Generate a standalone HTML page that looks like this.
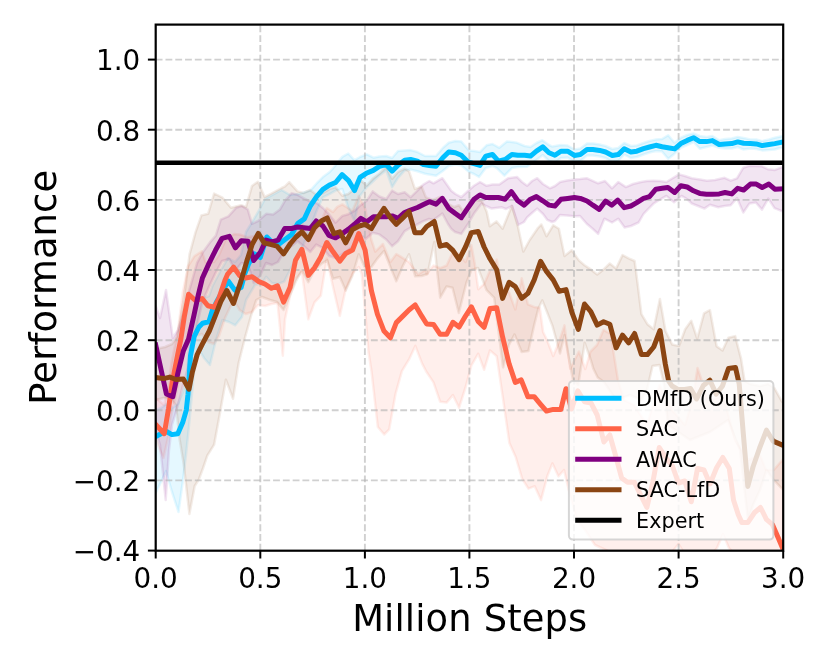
<!DOCTYPE html>
<html lang="en"><head><meta charset="utf-8"><title>Performance vs Million Steps</title>
<style>
html,body{margin:0;padding:0;background:#fff;}
body{width:830px;height:664px;overflow:hidden;}
svg{display:block;font-family:"DejaVu Sans","Liberation Sans",sans-serif;fill:#000;}
.tk{font-size:27.8px;}
.lb{font-size:36.8px;letter-spacing:0.17px;}
.lg{font-size:20.75px;}
</style></head><body>
<svg width="830" height="664" viewBox="0 0 830 664">
<rect width="830" height="664" fill="#fff"/>
<defs><clipPath id="ax"><rect x="155.7" y="24.6" width="627.5" height="526.1"/></clipPath></defs>
<g clip-path="url(#ax)">
<polygon points="155.7,410.0 161.0,408.0 166.5,404.0 172.0,408.0 178.0,404.0 183.0,392.0 186.5,378.0 190.5,330.0 194.0,312.0 199.0,304.0 204.0,298.0 209.0,296.0 212.5,286.0 221.0,270.0 228.0,258.0 235.0,262.0 241.0,255.0 246.0,232.0 251.0,224.0 258.0,212.0 265.0,199.0 271.5,195.5 281.6,190.0 290.0,195.0 299.0,194.0 310.3,190.6 317.0,183.0 322.9,177.1 329.7,172.0 335.6,165.3 342.3,156.9 348.2,153.5 354.5,160.2 360.0,157.0 366.8,154.3 373.5,157.7 379.4,156.5 386.2,156.0 392.1,158.0 398.0,151.0 404.7,150.5 410.6,150.1 417.4,152.0 425.0,156.0 436.0,156.0 442.8,148.0 448.7,142.8 455.4,141.0 461.3,141.5 468.9,150.4 474.0,151.0 480.0,152.0 486.6,145.3 492.5,144.0 499.3,147.8 506.9,141.5 512.0,142.0 517.0,142.8 524.6,146.0 530.5,147.0 536.4,143.0 542.3,140.2 549.0,145.0 552.4,146.6 560.9,145.0 567.6,145.5 574.4,149.5 580.3,148.5 587.0,143.5 592.9,143.5 599.7,144.5 605.6,146.0 612.3,149.0 618.2,148.0 624.2,143.0 630.9,146.0 636.8,145.5 643.5,143.0 649.5,141.0 655.9,139.5 662.1,139.0 668.2,135.2 674.5,142.8 680.9,137.7 687.2,135.0 693.5,133.5 699.8,136.0 706.5,136.9 712.4,136.0 719.2,140.2 725.1,139.0 731.8,138.5 737.7,136.9 743.6,138.0 750.4,139.4 756.3,139.5 762.2,141.1 768.9,139.5 774.8,137.7 783.2,136.0 783.2,147.0 774.8,149.5 768.9,150.0 762.2,150.4 756.3,149.0 750.4,148.5 743.6,149.5 737.7,147.0 731.8,148.5 725.1,148.5 719.2,147.8 712.4,145.5 706.5,147.0 699.8,148.7 693.5,142.0 687.2,145.0 680.9,147.8 674.5,153.7 668.2,158.8 661.8,151.2 655.9,151.0 649.5,152.5 643.5,154.5 636.8,157.0 630.9,158.0 624.2,154.5 618.2,161.0 612.3,162.0 605.6,158.0 599.7,156.5 592.9,155.5 587.0,155.5 580.3,161.0 574.4,162.0 567.6,157.5 560.9,158.0 554.9,163.0 549.0,161.0 542.8,155.0 536.4,160.0 527.1,166.8 517.8,167.0 512.0,168.1 504.4,175.7 496.8,168.1 492.5,166.0 485.8,168.0 479.0,176.9 474.0,174.0 468.9,171.9 461.3,165.5 455.4,164.5 448.7,166.0 442.8,171.0 436.0,175.7 425.0,173.7 417.4,171.2 410.6,169.5 404.7,170.4 398.0,177.9 392.1,187.2 386.2,170.4 379.4,175.4 373.5,181.0 366.8,187.2 360.0,195.7 354.5,221.0 348.2,207.5 342.3,188.9 335.6,190.6 329.7,194.0 322.9,197.3 317.0,210.0 310.0,228.0 303.0,246.0 297.0,256.0 291.0,268.0 284.2,281.6 278.0,284.0 272.0,283.0 266.1,276.8 262.5,282.8 255.0,285.0 246.1,300.0 241.9,316.9 235.2,325.3 229.0,322.0 222.5,320.0 216.0,340.0 209.9,365.0 204.0,358.0 198.0,348.0 194.0,372.0 189.6,420.0 186.3,452.0 183.0,480.0 178.5,512.0 172.0,492.0 166.0,471.0 161.0,482.0 155.7,493.0" fill="#00bfff" fill-opacity="0.10" stroke="#00bfff" stroke-opacity="0.10" stroke-width="2.5" stroke-linejoin="round"/>
<polygon points="155.7,398.0 164.3,405.0 168.6,382.0 172.0,360.0 178.0,330.0 182.9,291.7 188.0,266.4 194.3,256.3 201.9,251.2 205.7,262.6 214.0,262.0 219.0,255.0 225.9,239.0 234.3,234.0 241.1,234.8 247.8,237.3 254.0,236.0 260.0,240.0 266.0,244.0 272.0,246.0 278.0,243.0 284.0,252.0 290.0,240.0 295.5,225.0 301.8,222.0 308.0,238.0 314.5,232.0 320.8,222.0 326.8,208.0 333.0,212.0 337.2,206.9 342.3,204.4 352.4,210.7 358.7,196.0 365.0,208.0 368.5,225.0 371.4,240.0 375.3,251.6 382.9,244.0 390.4,262.0 396.3,254.0 400.6,256.6 409.0,262.0 418.3,274.4 425.9,269.3 426.7,274.0 433.5,265.5 440.2,268.1 446.6,265.5 452.9,252.0 459.1,253.7 465.5,262.0 471.4,245.3 474.8,263.9 478.2,289.2 484.1,284.1 490.0,270.6 496.7,259.6 502.6,287.5 509.1,292.5 515.3,309.4 521.7,278.2 527.9,304.3 534.2,306.9 539.8,307.7 543.1,332.0 547.0,340.0 553.2,356.0 558.7,342.8 564.5,325.4 570.2,368.8 578.9,351.5 585.3,369.0 590.5,351.5 597.0,345.0 603.5,329.8 610.7,334.1 618.0,380.4 624.0,400.0 634.0,405.0 647.0,425.0 653.0,405.0 659.6,385.0 672.0,410.0 685.0,425.0 693.0,398.0 697.5,368.0 703.5,386.0 708.0,402.0 723.0,395.0 735.0,440.0 748.0,460.0 760.0,455.0 766.0,470.0 773.7,470.0 783.2,459.0 783.2,575.0 740.0,560.0 729.0,548.0 723.0,534.0 717.0,548.0 710.0,556.0 686.0,556.0 678.5,544.0 672.0,552.0 660.0,556.0 630.0,556.0 610.0,552.0 595.0,545.0 585.0,530.0 577.0,520.0 570.0,495.0 564.0,470.0 558.4,476.3 552.4,463.4 547.4,476.0 541.0,500.1 534.7,486.2 528.4,488.7 522.1,478.6 515.7,457.0 509.4,443.1 502.6,395.9 496.7,356.3 490.0,350.4 484.1,369.8 478.2,353.7 471.4,365.5 465.5,387.5 459.1,407.7 452.9,395.1 446.6,402.6 440.2,401.8 433.5,382.4 426.7,372.3 422.1,363.6 415.3,345.9 409.5,358.6 401.9,371.2 395.5,394.0 389.2,429.4 384.2,434.5 377.8,426.9 371.5,371.2 368.5,352.0 365.1,310.8 361.7,273.7 358.7,267.0 352.5,273.7 345.7,288.9 339.8,315.9 333.1,287.2 326.8,258.6 320.8,295.7 314.5,302.4 308.3,319.3 301.9,272.0 295.5,278.8 290.1,295.7 285.0,319.3 282.8,355.7 277.5,303.0 271.5,304.0 265.0,306.0 258.0,305.0 252.0,312.0 245.6,314.0 239.6,310.0 233.6,300.0 225.0,318.0 219.0,336.0 214.0,344.0 208.0,342.0 202.0,334.0 195.4,336.0 188.6,330.0 184.3,352.0 178.0,385.0 172.0,412.0 168.6,435.0 163.5,458.0 155.7,440.0" fill="#ff6347" fill-opacity="0.10" stroke="#ff6347" stroke-opacity="0.10" stroke-width="2.5" stroke-linejoin="round"/>
<polygon points="155.7,306.0 160.0,318.0 166.0,290.0 172.8,338.0 178.0,330.0 183.0,315.0 188.8,292.0 197.2,262.6 203.0,252.0 209.9,242.4 215.8,235.7 220.8,219.6 228.4,216.3 236.0,207.8 241.9,206.1 247.8,209.5 252.0,223.8 258.0,221.0 266.4,213.7 273.1,214.6 279.9,209.5 285.0,200.7 291.7,193.1 297.6,194.8 303.6,198.2 310.3,201.6 317.0,203.2 323.0,208.0 328.9,214.2 335.6,222.6 342.3,215.9 348.2,214.2 354.5,210.8 360.9,204.9 366.8,200.7 372.7,191.4 379.4,196.5 386.2,199.0 392.1,190.6 398.0,194.0 404.7,192.3 410.6,197.3 417.4,190.6 423.4,184.5 429.3,181.0 433.5,183.3 442.4,178.2 451.2,190.8 455.4,194.0 461.3,197.2 468.0,191.0 474.0,185.8 480.0,182.0 486.6,185.8 492.5,184.5 499.3,184.5 508.1,178.2 517.0,176.9 522.0,182.0 527.1,185.8 532.0,181.0 537.2,178.2 543.0,184.0 549.9,188.3 555.0,186.0 560.1,182.0 567.0,180.5 574.0,179.5 580.0,179.0 586.7,178.2 598.1,183.3 605.0,181.0 612.0,188.3 618.3,182.0 625.9,187.1 633.0,184.0 641.1,182.0 647.0,181.0 653.7,180.7 660.0,181.0 666.4,182.0 673.0,178.0 679.0,174.4 685.0,176.0 691.7,178.2 700.0,179.5 706.9,180.7 715.0,180.0 724.5,177.8 730.7,180.7 737.0,178.3 743.3,167.7 749.5,165.8 756.0,166.0 762.0,166.3 767.8,169.2 774.6,170.1 783.2,166.7 783.2,211.6 774.6,208.2 768.3,198.6 762.0,209.6 755.8,202.4 749.5,203.4 743.3,212.5 737.0,198.1 730.7,205.3 724.5,206.0 718.2,207.2 710.0,204.8 704.4,208.6 698.0,206.0 691.7,203.5 687.0,199.0 681.6,195.9 674.0,202.2 666.4,195.9 660.0,199.5 653.7,203.5 647.4,209.8 643.5,214.0 638.6,222.5 631.0,226.0 624.6,227.5 618.3,218.7 612.0,222.5 604.4,218.7 598.1,233.9 592.9,229.0 586.7,223.7 580.0,216.0 574.0,216.2 567.0,215.5 560.1,214.9 555.0,221.0 552.0,222.0 547.4,219.9 543.0,214.0 537.2,208.6 532.0,213.0 527.1,217.4 524.0,222.0 518.3,225.0 512.0,206.0 506.0,209.0 501.8,207.3 491.7,208.6 486.0,206.0 481.6,203.5 474.0,213.6 468.0,224.0 461.3,233.9 455.0,232.0 451.2,228.8 448.0,224.0 442.4,213.6 433.5,219.9 429.0,219.0 423.4,221.2 417.4,224.3 410.6,227.7 404.7,231.1 398.0,241.2 392.1,246.3 386.2,239.5 379.4,234.4 372.7,232.8 365.1,239.5 362.7,236.4 354.5,245.0 348.2,250.0 342.3,254.0 335.6,258.0 329.0,256.0 323.0,248.0 316.2,244.6 310.3,252.0 303.6,246.0 297.6,241.2 291.7,246.0 285.0,250.0 278.0,262.0 272.0,265.0 266.0,263.0 260.0,276.0 253.7,283.0 248.0,264.0 241.4,263.0 235.4,271.0 229.3,259.0 222.0,261.0 215.5,273.0 208.9,287.0 202.4,302.0 197.8,322.0 194.0,340.0 188.0,368.0 183.0,385.0 178.0,405.0 172.0,425.0 169.0,450.0 165.7,500.0 160.0,445.0 155.7,430.0" fill="#800080" fill-opacity="0.10" stroke="#800080" stroke-opacity="0.10" stroke-width="2.5" stroke-linejoin="round"/>
<polygon points="155.7,349.0 165.0,347.0 172.0,344.0 177.0,337.0 183.7,300.0 189.6,254.2 195.5,232.3 201.4,215.4 208.2,213.7 214.1,193.5 222.5,197.7 231.0,207.8 241.0,205.3 246.0,207.0 252.0,185.9 257.9,181.7 264.7,196.9 271.4,193.5 276.0,191.0 281.6,188.0 285.0,186.4 289.2,182.2 297.6,191.4 303.6,193.0 310.0,190.0 317.0,195.0 323.0,193.0 329.7,188.9 335.6,187.2 342.3,195.7 348.2,194.0 354.5,188.9 360.9,180.5 366.8,185.5 372.7,178.8 379.4,173.7 386.2,167.0 392.1,178.8 398.0,172.0 404.7,168.7 409.0,171.2 414.9,188.9 421.6,186.5 425.9,197.3 433.0,200.0 440.0,197.0 446.6,203.0 454.2,207.0 459.0,205.2 462.7,210.6 468.0,206.0 474.0,200.0 481.9,201.0 486.7,211.8 489.8,226.3 496.4,221.4 502.6,228.7 508.5,214.3 511.9,205.9 517.8,226.1 523.3,251.6 529.7,240.0 538.1,227.8 541.4,224.5 546.5,236.3 553.2,225.3 558.9,228.8 564.5,256.0 571.7,250.2 578.9,260.4 584.5,265.2 590.8,269.4 597.2,274.5 603.6,269.4 609.8,263.5 616.1,268.6 622.5,255.1 628.7,258.4 634.6,261.0 637.6,283.7 641.4,314.1 647.4,324.2 653.7,329.3 659.9,298.9 665.5,331.0 672.2,344.5 679.0,346.1 685.2,329.3 691.3,320.8 697.2,338.7 704.0,313.4 709.9,310.0 716.6,346.3 722.5,350.5 728.4,337.8 735.2,336.1 741.1,358.9 744.5,380.8 750.0,384.0 760.0,386.0 768.0,384.0 774.3,388.0 781.6,401.0 783.2,403.0 783.2,490.0 773.7,480.0 766.5,470.0 760.0,490.0 753.0,505.0 748.0,520.0 740.0,450.0 728.0,420.0 710.0,432.0 690.0,440.0 668.0,425.0 664.0,384.0 659.5,365.0 652.5,366.0 647.0,390.0 641.0,400.0 630.0,395.0 616.0,400.0 604.0,382.0 597.7,377.5 593.4,368.8 590.8,360.0 584.7,342.8 578.3,385.0 573.1,380.4 564.5,335.0 560.0,353.5 552.4,325.7 547.0,312.0 542.3,300.4 538.5,308.0 534.2,325.0 528.4,351.0 521.7,352.0 514.5,334.5 509.0,345.0 503.1,367.4 494.2,297.8 486.6,290.2 478.0,268.0 471.4,270.0 466.4,282.7 458.8,313.0 452.5,287.7 446.6,286.4 440.2,297.6 436.9,269.0 434.3,242.0 427.6,274.0 421.6,276.0 415.2,276.3 409.0,254.3 403.1,265.3 396.3,281.3 390.4,267.0 384.0,251.0 377.4,258.6 371.4,267.0 365.1,268.0 358.7,254.3 352.5,275.4 345.7,290.6 339.8,277.0 333.1,278.8 327.2,260.2 321.3,264.0 314.5,270.0 308.3,282.2 301.9,270.4 295.5,282.2 290.5,294.0 283.6,310.0 277.0,302.0 270.0,300.0 262.0,297.0 256.3,300.0 251.2,315.2 244.9,338.0 238.6,363.3 233.0,398.7 225.9,379.7 219.6,415.0 214.1,444.7 207.3,455.7 203.1,468.0 198.9,479.3 194.7,486.0 189.4,514.0 183.7,464.1 179.5,438.8 176.0,405.0 170.0,398.0 163.5,398.0 155.7,400.0" fill="#8b4513" fill-opacity="0.10" stroke="#8b4513" stroke-opacity="0.10" stroke-width="2.5" stroke-linejoin="round"/>
<g stroke="#b0b0b0" stroke-opacity="0.6" stroke-width="1.9" stroke-dasharray="6.83,2.952" fill="none"><line x1="260.3" y1="550.7" x2="260.3" y2="24.6"/><line x1="364.9" y1="550.7" x2="364.9" y2="24.6"/><line x1="469.4" y1="550.7" x2="469.4" y2="24.6"/><line x1="574.0" y1="550.7" x2="574.0" y2="24.6"/><line x1="678.6" y1="550.7" x2="678.6" y2="24.6"/><line x1="155.7" y1="480.4" x2="783.2" y2="480.4"/><line x1="155.7" y1="410.3" x2="783.2" y2="410.3"/><line x1="155.7" y1="340.2" x2="783.2" y2="340.2"/><line x1="155.7" y1="270.0" x2="783.2" y2="270.0"/><line x1="155.7" y1="199.9" x2="783.2" y2="199.9"/><line x1="155.7" y1="129.7" x2="783.2" y2="129.7"/><line x1="155.7" y1="59.6" x2="783.2" y2="59.6"/></g>
<polyline points="155.7,436.5 161.0,433.7 166.5,431.5 171.9,434.6 177.8,433.7 182.9,421.9 186.3,410.1 188.0,394.5 190.5,355.7 194.2,336.5 198.9,327.0 202.6,323.2 208.9,321.7 212.2,310.7 216.0,303.0 221.5,293.0 228.2,281.0 234.8,290.1 241.1,287.5 245.0,273.2 248.5,264.0 254.6,254.0 260.3,257.5 266.8,237.0 272.5,242.5 278.5,244.5 285.0,239.5 291.7,234.5 297.6,223.6 304.3,218.9 310.3,206.0 316.6,196.6 322.9,189.3 329.4,185.1 335.6,182.5 342.1,174.7 348.6,180.6 354.5,190.5 360.0,177.4 366.3,173.3 373.3,170.4 379.4,166.4 386.2,164.5 392.1,171.2 398.0,165.3 404.7,160.2 410.6,159.4 417.4,161.1 423.5,164.6 429.3,165.4 436.0,166.3 442.8,157.8 448.7,151.9 455.4,152.8 461.3,155.3 468.1,162.0 474.0,163.7 479.9,165.4 485.8,156.1 492.5,154.5 498.4,161.2 505.2,159.5 511.9,154.5 517.8,155.3 524.6,155.3 530.5,156.1 536.4,151.1 542.8,146.9 549.0,152.8 554.9,155.3 560.9,151.2 567.6,151.2 574.4,155.4 580.3,154.6 587.0,149.5 592.9,149.5 599.7,150.4 605.6,152.0 612.3,155.4 618.2,154.6 624.2,148.7 630.9,152.0 636.8,151.2 643.5,148.7 649.5,147.0 655.9,145.3 662.1,146.8 668.0,147.8 674.7,148.9 680.8,143.6 687.2,140.4 693.5,137.7 699.8,141.6 706.5,141.6 712.4,140.6 719.2,144.5 725.1,143.9 731.8,143.6 737.7,141.9 743.6,143.3 750.4,143.6 756.3,143.9 762.2,145.6 768.9,144.5 774.8,143.6 783.2,141.9" fill="none" stroke="#00bfff" stroke-width="5" stroke-linejoin="round" stroke-linecap="square"/>
<polyline points="155.7,424.5 164.3,433.7 168.6,408.4 171.9,384.3 177.8,354.0 180.9,339.0 184.3,316.4 188.6,294.3 195.4,300.5 202.1,298.6 207.9,305.8 214.2,307.3 219.0,298.1 224.8,280.8 227.5,274.4 233.6,267.2 239.6,275.6 245.6,278.0 252.2,276.8 258.9,281.6 264.9,284.0 271.5,288.3 277.5,285.8 283.6,302.1 290.1,287.2 295.5,260.2 301.9,249.3 308.3,275.4 314.5,267.8 320.8,256.9 326.8,242.5 333.1,251.8 339.8,261.1 345.7,253.5 352.5,250.1 358.7,233.5 365.1,250.1 368.5,272.0 371.4,290.6 377.4,314.2 384.0,331.1 390.4,337.8 396.3,322.6 403.1,315.9 409.0,310.0 415.2,304.9 421.6,315.9 426.7,324.0 433.5,324.4 440.2,334.3 446.6,334.3 452.9,322.3 459.1,327.0 465.5,316.1 471.4,306.9 478.2,321.4 484.1,327.3 490.0,308.5 496.7,307.7 502.6,336.9 509.1,363.9 515.3,382.4 521.2,379.9 527.9,396.7 534.2,396.7 540.6,404.3 546.5,411.1 553.2,409.4 560.9,409.4 566.0,388.7 571.5,409.0 577.8,390.8 584.5,401.8 591.0,403.0 597.2,415.0 603.9,442.0 609.8,435.0 615.7,456.0 621.6,477.9 627.5,482.2 634.3,482.2 641.0,495.7 646.9,507.5 652.8,482.2 659.3,447.5 666.0,458.1 672.4,466.0 678.5,483.0 684.8,481.0 691.3,501.8 697.5,468.5 704.0,470.0 710.0,484.0 716.6,467.7 722.8,457.5 729.3,468.5 733.5,500.0 738.3,514.7 741.9,522.6 747.8,522.6 754.6,512.5 760.5,507.5 766.4,519.3 772.3,524.3 778.2,537.8 783.2,549.6" fill="none" stroke="#ff6347" stroke-width="5" stroke-linejoin="round" stroke-linecap="square"/>
<polyline points="155.7,345.0 166.4,394.0 172.8,396.7 177.9,373.0 183.3,351.0 188.6,339.0 193.9,315.5 197.8,297.2 202.4,278.0 208.9,263.6 215.5,250.3 222.1,238.3 229.3,236.4 235.4,247.9 241.4,240.7 248.0,241.3 253.7,260.5 260.1,252.7 266.1,240.1 272.1,241.9 278.1,240.1 284.8,228.6 291.7,228.5 297.6,226.9 303.6,227.7 310.3,228.5 316.2,221.0 322.9,226.0 328.9,235.3 335.6,237.8 342.3,233.6 348.2,229.4 354.5,224.3 360.9,218.4 366.8,221.8 373.5,216.7 379.4,216.7 386.2,216.7 392.1,215.9 398.0,218.4 404.7,212.5 410.6,210.0 417.4,207.5 423.5,204.5 429.3,201.7 436.0,204.2 442.3,198.3 448.7,208.4 455.4,213.5 461.3,217.7 468.1,207.6 474.0,199.2 479.9,194.9 485.8,197.5 492.5,197.5 498.4,197.5 505.2,199.2 511.4,191.6 517.8,200.8 524.1,205.1 530.5,199.2 536.4,196.6 542.8,200.8 549.0,205.1 554.9,206.0 560.9,199.3 567.6,198.4 574.4,197.6 580.3,198.4 587.0,201.0 592.9,205.2 599.2,209.4 605.6,201.0 611.8,205.2 617.7,200.1 624.2,207.7 630.9,206.0 636.8,202.6 643.5,198.4 649.5,196.7 655.9,189.2 662.1,188.3 668.0,187.5 674.6,192.5 680.8,185.8 687.2,187.0 693.5,190.8 699.8,193.4 706.5,194.2 712.4,194.2 719.2,193.9 725.1,192.5 731.8,193.9 737.7,188.3 743.6,190.0 750.4,184.1 756.3,184.1 762.2,187.5 768.9,184.1 774.8,189.2 783.2,188.8" fill="none" stroke="#800080" stroke-width="5" stroke-linejoin="round" stroke-linecap="square"/>
<polyline points="155.7,377.6 163.5,378.6 169.8,377.1 176.0,379.5 183.3,379.0 189.0,389.2 192.4,371.8 197.2,354.5 202.3,344.2 209.3,331.0 215.0,316.6 220.8,301.5 226.8,290.5 233.5,303.5 240.8,281.6 246.8,261.1 252.2,244.3 258.3,233.4 264.3,243.1 270.3,244.3 276.9,246.1 283.6,253.9 290.5,243.5 296.0,237.0 301.9,231.9 308.3,239.5 314.5,227.7 321.3,221.0 327.2,217.9 333.9,233.6 339.8,231.9 345.7,242.9 352.5,229.4 359.2,226.0 365.1,224.3 371.4,228.5 377.8,217.6 384.0,208.3 390.4,217.6 396.3,224.3 403.1,217.6 409.0,211.7 414.9,232.8 421.6,232.8 426.7,226.5 434.3,221.5 440.2,246.1 446.6,244.5 452.9,250.4 459.1,259.6 465.5,247.0 471.4,232.6 478.2,231.5 484.1,247.0 490.0,258.8 496.7,269.8 502.6,298.4 509.1,282.4 515.3,286.6 521.7,298.4 527.9,293.4 534.2,279.9 540.6,261.3 546.5,271.4 553.2,279.9 559.2,291.3 566.0,289.6 571.9,312.4 578.3,329.3 584.5,304.0 590.8,311.6 597.2,325.1 603.6,321.7 609.8,324.2 616.1,347.8 622.5,335.2 628.7,342.8 634.6,333.5 641.4,354.6 647.4,354.6 653.7,347.0 660.0,330.5 665.3,364.0 668.6,380.8 672.0,386.0 678.0,389.5 684.5,389.5 690.5,388.5 696.6,399.0 703.3,385.5 709.9,380.2 716.2,394.1 722.5,385.9 728.5,368.5 735.5,367.5 739.2,384.0 743.0,430.0 747.8,486.4 753.0,467.0 759.6,448.0 766.5,430.2 773.1,441.1 783.2,445.5" fill="none" stroke="#8b4513" stroke-width="5" stroke-linejoin="round" stroke-linecap="square"/>
<line x1="155.7" y1="162.75" x2="783.2" y2="162.75" stroke="#000" stroke-width="4.7"/>
</g>
<rect x="155.7" y="24.6" width="627.5" height="526.1" fill="none" stroke="#000" stroke-width="2.2" stroke-linejoin="miter"/>
<g stroke="#000" stroke-width="2"><line x1="155.7" y1="550.7" x2="155.7" y2="558.5"/><line x1="260.3" y1="550.7" x2="260.3" y2="558.5"/><line x1="364.9" y1="550.7" x2="364.9" y2="558.5"/><line x1="469.4" y1="550.7" x2="469.4" y2="558.5"/><line x1="574.0" y1="550.7" x2="574.0" y2="558.5"/><line x1="678.6" y1="550.7" x2="678.6" y2="558.5"/><line x1="783.2" y1="550.7" x2="783.2" y2="558.5"/><line x1="155.7" y1="550.6" x2="147.9" y2="550.6"/><line x1="155.7" y1="480.4" x2="147.9" y2="480.4"/><line x1="155.7" y1="410.3" x2="147.9" y2="410.3"/><line x1="155.7" y1="340.2" x2="147.9" y2="340.2"/><line x1="155.7" y1="270.0" x2="147.9" y2="270.0"/><line x1="155.7" y1="199.9" x2="147.9" y2="199.9"/><line x1="155.7" y1="129.7" x2="147.9" y2="129.7"/><line x1="155.7" y1="59.6" x2="147.9" y2="59.6"/></g>
<text class="tk" x="155.7" y="588.3" text-anchor="middle">0.0</text>
<text class="tk" x="260.3" y="588.3" text-anchor="middle">0.5</text>
<text class="tk" x="364.9" y="588.3" text-anchor="middle">1.0</text>
<text class="tk" x="469.4" y="588.3" text-anchor="middle">1.5</text>
<text class="tk" x="574.0" y="588.3" text-anchor="middle">2.0</text>
<text class="tk" x="678.6" y="588.3" text-anchor="middle">2.5</text>
<text class="tk" x="783.2" y="588.3" text-anchor="middle">3.0</text>
<text class="tk" x="140.3" y="561.4" text-anchor="end">−0.4</text>
<text class="tk" x="140.3" y="491.2" text-anchor="end">−0.2</text>
<text class="tk" x="140.3" y="421.1" text-anchor="end">0.0</text>
<text class="tk" x="140.3" y="351.0" text-anchor="end">0.2</text>
<text class="tk" x="140.3" y="280.8" text-anchor="end">0.4</text>
<text class="tk" x="140.3" y="210.7" text-anchor="end">0.6</text>
<text class="tk" x="140.3" y="140.5" text-anchor="end">0.8</text>
<text class="tk" x="140.3" y="70.4" text-anchor="end">1.0</text>
<text class="lb" x="469.8" y="631.2" text-anchor="middle">Million Steps</text>
<text class="lb" transform="translate(55.7,287.2) rotate(-90)" text-anchor="middle">Performance</text>
<rect x="568.9" y="381.1" width="204.5" height="158.5" rx="4" ry="4" fill="#fff" fill-opacity="0.8" stroke="#ccc" stroke-opacity="0.8" stroke-width="2"/>
<line x1="577.7" y1="398.3" x2="619" y2="398.3" stroke="#00bfff" stroke-width="5" stroke-linecap="square"/>
<text class="lg" x="636.1" y="405.5">DMfD (Ours)</text>
<line x1="577.7" y1="428.8" x2="619" y2="428.8" stroke="#ff6347" stroke-width="5" stroke-linecap="square"/>
<text class="lg" x="636.1" y="436.0">SAC</text>
<line x1="577.7" y1="459.3" x2="619" y2="459.3" stroke="#800080" stroke-width="5" stroke-linecap="square"/>
<text class="lg" x="636.1" y="466.5">AWAC</text>
<line x1="577.7" y1="489.8" x2="619" y2="489.8" stroke="#8b4513" stroke-width="5" stroke-linecap="square"/>
<text class="lg" x="636.1" y="497.0">SAC-LfD</text>
<line x1="577.7" y1="520.3" x2="619" y2="520.3" stroke="#000" stroke-width="5" stroke-linecap="square"/>
<text class="lg" x="636.1" y="527.5">Expert</text>
</svg></body></html>
